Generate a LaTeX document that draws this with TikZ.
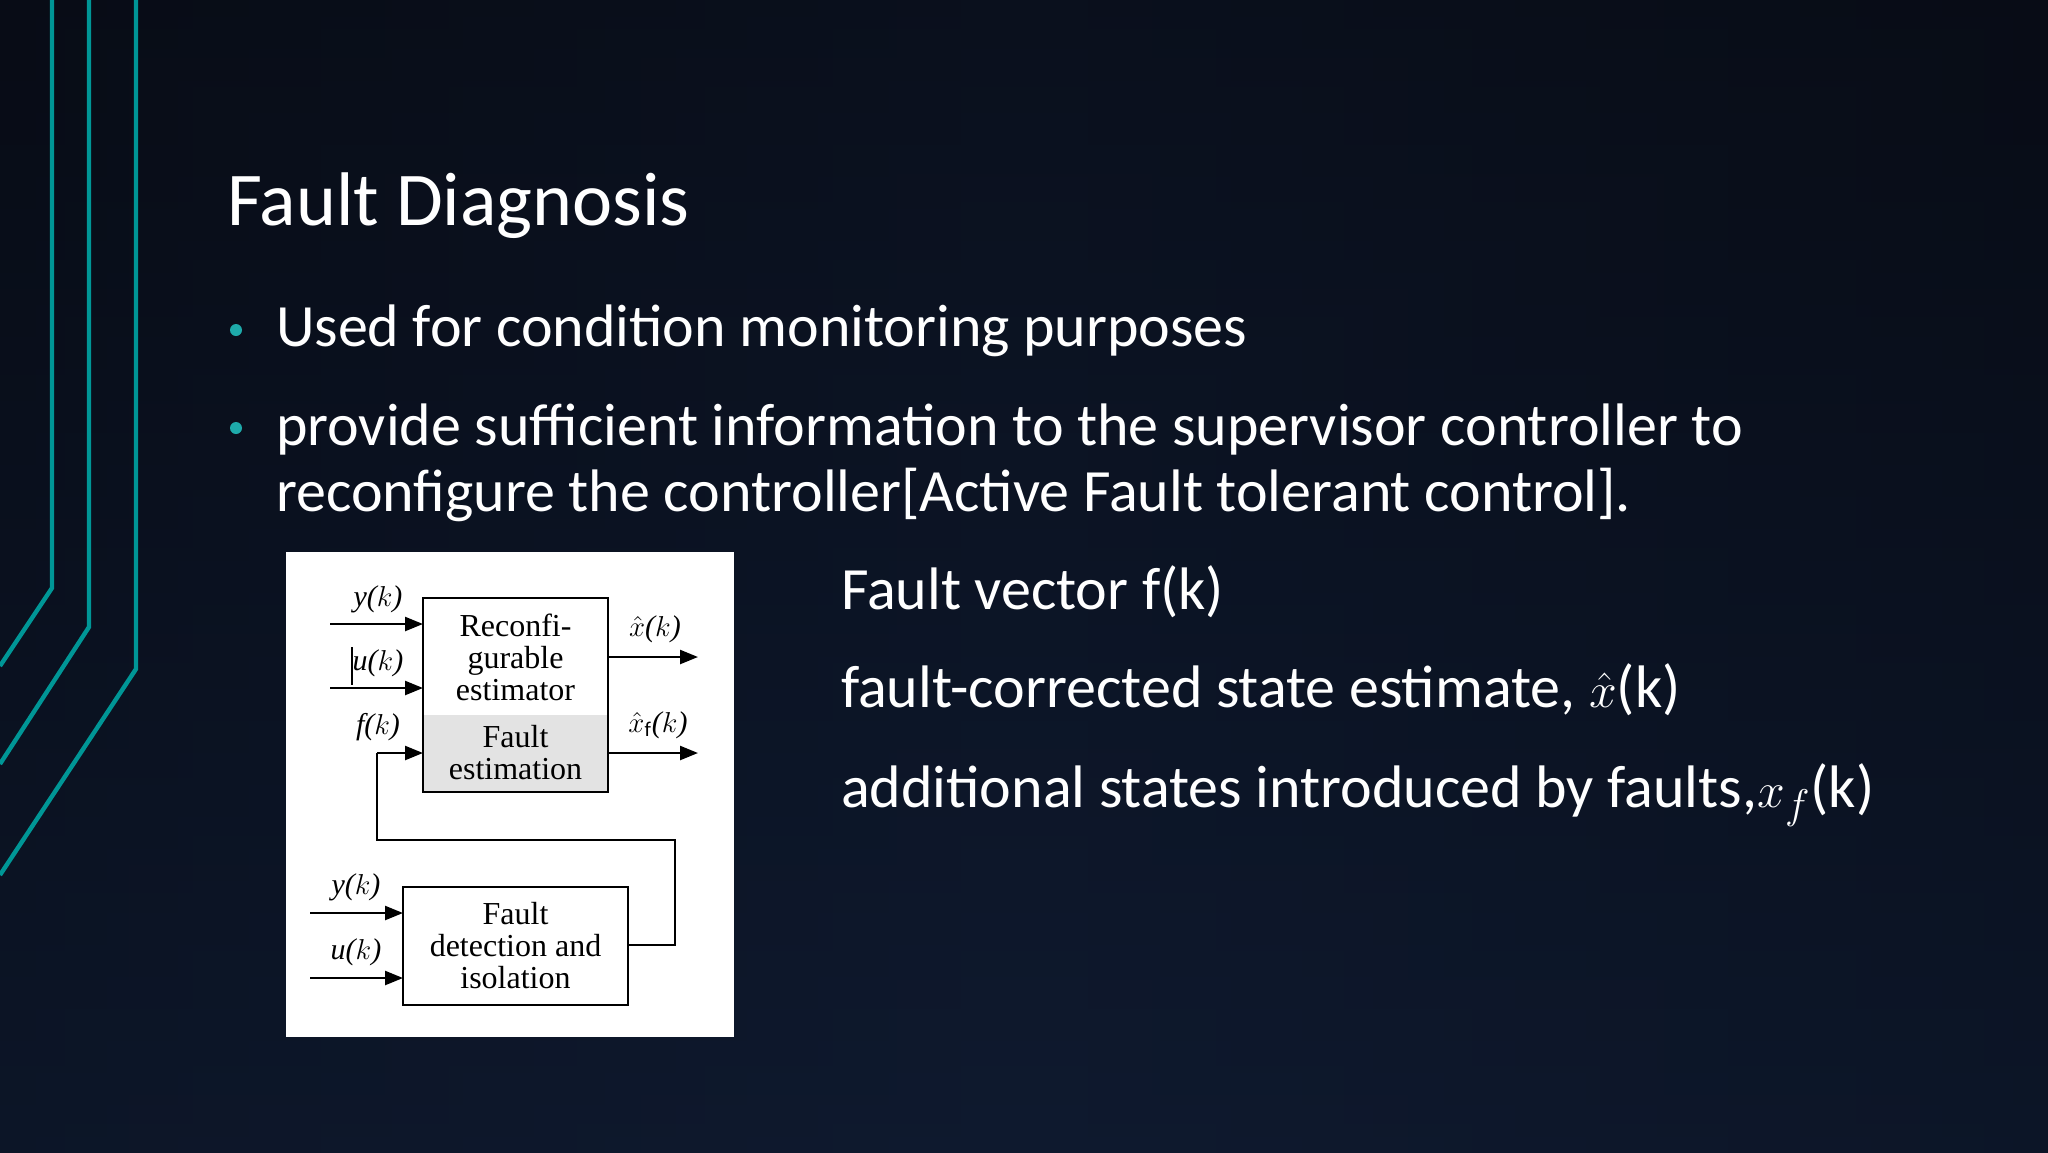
\documentclass[tikz,border=0pt]{standalone}
\usepackage{fontspec}
\setmainfont{Carlito}
\newfontfamily\timesf{Liberation Serif}
\usetikzlibrary{arrows.meta}
\definecolor{bgA}{RGB}{8,12,22}
\definecolor{bgB}{RGB}{18,32,58}
\definecolor{tealc}{RGB}{0,150,150}
\definecolor{bulc}{RGB}{30,170,170}
\begin{document}
\begin{tikzpicture}[x=0.5pt,y=-0.5pt,
  tline/.style={tealc,line width=2.2pt},
  blk/.style={draw=black,line width=1.4pt},
  sig/.style={black,line width=1.2pt,-{Triangle[length=9pt,width=7pt]}},
  wire/.style={black,line width=1.2pt},
  lab/.style={font=\timesf\fontsize{15}{16}\selectfont\itshape,black,anchor=base},
  btxt/.style={font=\timesf\fontsize{16}{16}\selectfont,black,align=center},
  slide/.style={font=\fontsize{30}{34}\selectfont,white,anchor=base west}]
\useasboundingbox (0,0) rectangle (2048,1152);
\shade[top color=bgA,bottom color=bgB] (0,0) rectangle (2048,1152);
\shade[left color=bgA,right color=bgA,middle color=bgA!60!bgB,opacity=0.5] (0,0) rectangle (2048,1152);
\draw[tline] (52,0) -- (52,588) -- (0,666);
\draw[tline] (89,0) -- (89,627) -- (0,764);
\draw[tline] (136,0) -- (136,669) -- (0,875);
\node[slide,font=\fontsize{38}{42}\selectfont] (title) at (220,225) {Fault Diagnosis};
\fill[bulc] (236,330) circle (6);
\fill[bulc] (236,428) circle (6);
\node[slide] (b1) at (269,346) {Used for condition monitoring purposes};
\node[slide] (b2) at (269,445) {provide sufficient information to the supervisor controller to};
\node[slide] (b3) at (269,511) {reconfigure the controller[Active Fault tolerant control].};
\node[slide] (r1) at (834,609) {Fault vector f(k)};
\node[slide] (r2) at (834,707) {fault-corrected state estimate, $\hat{x}$(k)};
\node[slide] (r3) at (834,807) {additional states introduced by faults,$x_f$(k)};
% diagram panel
\fill[white] (286,552) rectangle (734,1037);
\fill[gray!22] (423,715) rectangle (608,792);
\draw[blk] (423,598) rectangle (608,792);
\node[btxt] (re) at (515.5,657) {Reconfi-\\gurable\\estimator};
\node[btxt] (fe) at (515.5,753) {Fault\\estimation};
\draw[blk] (403,887) rectangle (628,1005);
\node[btxt] (fd) at (515.5,946) {Fault\\detection and\\isolation};
\coordinate (ya) at (330,624); \coordinate (yb) at (423,624);
\coordinate (ua) at (330,688); \coordinate (ub) at (423,688);
\coordinate (fa) at (377,753); \coordinate (fb) at (423,753);
\draw[sig] (ya) -- (yb);
\draw[sig] (ua) -- (ub);
\draw[sig] (fa) -- (fb);
\draw[wire] (352,647) -- (352,685);
\coordinate (xo1) at (608,657); \coordinate (xe1) at (698,657);
\coordinate (xo2) at (608,753); \coordinate (xe2) at (698,753);
\draw[sig] (xo1) -- (xe1);
\draw[sig] (xo2) -- (xe2);
\coordinate (fdo) at (628,945);
\draw[wire] (fdo) -- (675,945) -- (675,840) -- (377,840) -- (fa);
\coordinate (y2a) at (310,913); \coordinate (y2b) at (403,913);
\coordinate (u2a) at (310,978); \coordinate (u2b) at (403,978);
\draw[sig] (y2a) -- (y2b);
\draw[sig] (u2a) -- (u2b);
\node[lab] (ly) at (378,606) {y($k$)};
\node[lab] (lu) at (378,670) {u($k$)};
\node[lab] (lf) at (378,734) {f($k$)};
\node[lab] (lx1) at (655,636) {$\hat{x}$($k$)};
\node[lab] (lx2) at (658,732) {$\hat{x}_{\mathrm f}$($k$)};
\node[lab] (ly2) at (356,894) {y($k$)};
\node[lab] (lu2) at (356,959) {u($k$)};
\end{tikzpicture}
\end{document}
